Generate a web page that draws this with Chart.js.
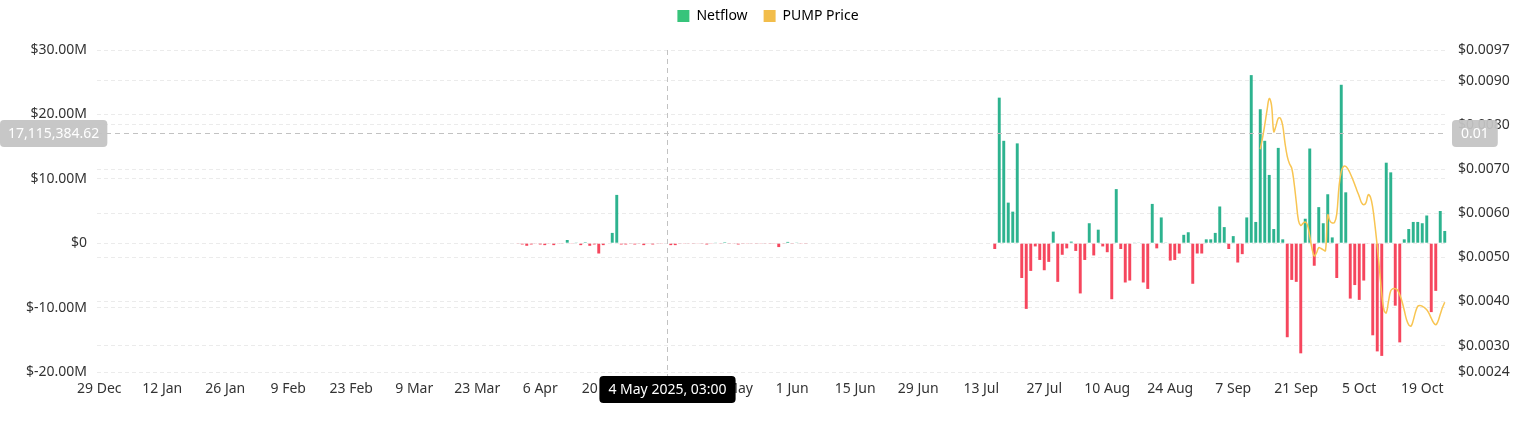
<!DOCTYPE html>
<html>
<head>
<meta charset="utf-8">
<title>PUMP Netflow vs Price</title>
<script src="https://cdn.jsdelivr.net/npm/chart.js@4.4.0/dist/chart.umd.min.js"></script>
<style>
  html, body { margin: 0; padding: 0; background: #fff; }
  #chart { display: block; }
</style>
</head>
<body>
<canvas id="chart" width="1536" height="435"></canvas>
<script>
// x axis: one slot per day, starting 29 Dec 2024
var AXIS_START = Date.UTC(2024, 11, 29);
var AXIS_DAYS = 300;
var TICK_STEP_DAYS = 14;

var dateTickLabels = ['29 Dec', '12 Jan', '26 Jan', '9 Feb', '23 Feb', '9 Mar', '23 Mar', '6 Apr',
  '20 Apr', '4 May', '18 May', '1 Jun', '15 Jun', '29 Jun', '13 Jul', '27 Jul', '10 Aug',
  '24 Aug', '7 Sep', '21 Sep', '5 Oct', '19 Oct'];

var netflowTicks = [-20e6, -10e6, 0, 10e6, 20e6, 30e6];
var priceTicks = [0.0024, 0.003, 0.004, 0.005, 0.006, 0.007, 0.008, 0.009, 0.0097];

// Netflow in $M, daily
var springFlowStart = '2025-04-01';
var springFlow = [
  -0.1, -0.2, -0.4, -0.2, -0.1, -0.2, -0.3, -0.1, -0.3, -0.1,
  -0.1, 0.5, -0.05, 0.05, -0.3, 0.15, -0.4, -0.2, -1.6, -0.3,
  0, 1.6, 7.5, -0.2, -0.2, -0.1, -0.2, -0.1, -0.3, -0.1,
  -0.2, -0.1, -0.05, 0, -0.3, -0.3, -0.1, -0.05, -0.1, -0.05,
  -0.1, -0.05, -0.2, -0.05, 0.1, -0.05, 0.15, -0.05, -0.1, -0.2,
  -0.05, -0.05, -0.1, -0.05, -0.05, -0.1, -0.05, -0.05, -0.6, -0.1,
  0.2, -0.05, 0.05, -0.05, -0.05
];

var summerFlowStart = '2025-07-16';
var summerFlow = [
  -0.9, 22.6, 15.9, 6.3, 4.9, 15.5, -5.4, -10.2, -4.3, -0.5,
  -2.6, -4.2, -2.9, 1.8, -6.0, -1.8, -0.8, 0.25, -1.2, -7.8,
  -2.6, 3.1, -1.9, 2.1, -0.5, -1.4, -8.7, 8.4, -0.9, -6.1,
  -5.8, 0.1, 0.1, -6.1, -7.1, 6.1, -0.8, 4.0, 0.05, -2.7,
  -2.6, -1.6, 1.3, 1.7, -6.3, -1.6, -1.6, 0.6, 0.6, 1.6,
  5.7, 2.5, -0.9, 1.1, -3.0, -1.7, 4.0, 26.1, 3.3, 20.8,
  15.9, 10.6, 2.2, 14.8, 0.6, -14.6, -5.7, -6.0, -17.1, 3.8,
  14.7, -3.5, 5.6, 3.1, 7.6, 0.9, -5.4, 24.6, 7.9, -8.6,
  -6.5, -8.8, -5.8, -0.1, -14.3, -16.8, -17.5, 12.5, 11.0, -9.7,
  -15.4, 0.6, 2.2, 3.3, 3.3, 3.1, 4.3, -10.7, -7.4, 5.0,
  1.9
];

// PUMP price in $, every 12 hours
var priceStart = '2025-09-13';
var priceStepHours = 12;
var pumpPrice = [
  0.00745, 0.00770, 0.00800, 0.00833, 0.00860, 0.00845, 0.00785, 0.00798, 0.00815, 0.00815,
  0.00798, 0.00759, 0.00729, 0.00712, 0.00702, 0.00670, 0.00626, 0.00583, 0.00572, 0.00577,
  0.00580, 0.00573, 0.00548, 0.00520, 0.00503, 0.00510, 0.00522, 0.00520, 0.00517, 0.00515,
  0.00596, 0.00582, 0.00578, 0.00579, 0.00598, 0.00660, 0.00695, 0.00706, 0.00706, 0.00700,
  0.00690, 0.00678, 0.00665, 0.00651, 0.00638, 0.00624, 0.00619, 0.00624, 0.00642, 0.00636,
  0.00612, 0.00572, 0.00525, 0.00473, 0.00417, 0.00380, 0.00374, 0.00400, 0.00424, 0.00429,
  0.00429, 0.00426, 0.00415, 0.00400, 0.00380, 0.00359, 0.00347, 0.00344, 0.00357, 0.00376,
  0.00389, 0.00391, 0.00389, 0.00386, 0.00381, 0.00373, 0.00362, 0.00352, 0.00347, 0.00355,
  0.00371, 0.00386, 0.00398
];

// hover position frozen in the screenshot
var crosshairDate = '2025-05-04';
var crosshairHour = 3;
var crosshairText = '4 May 2025, 03:00';
var crosshairNetflow = 17115384.62;

var GREEN = '#2db38f';
var RED = '#f6465d';
var YELLOW = '#f8c552';

function dayOf(dateStr, hours) {
  return (Date.parse(dateStr) - AXIS_START) / 86400000 + (hours || 0) / 24;
}

function flowPoints(start, values) {
  var d0 = dayOf(start);
  return values.map(function(v, i) {
    return { x: d0 + i, y: v * 1e6 };
  });
}

var netflowData = flowPoints(springFlowStart, springFlow).concat(flowPoints(summerFlowStart, summerFlow));

var priceData = pumpPrice.map(function(p, i) {
  return { x: dayOf(priceStart) + i * priceStepHours / 24, y: p };
});

function roundRect(ctx, x, y, w, h, r) {
  ctx.beginPath();
  ctx.moveTo(x + r, y);
  ctx.lineTo(x + w - r, y);
  ctx.quadraticCurveTo(x + w, y, x + w, y + r);
  ctx.lineTo(x + w, y + h - r);
  ctx.quadraticCurveTo(x + w, y + h, x + w - r, y + h);
  ctx.lineTo(x + r, y + h);
  ctx.quadraticCurveTo(x, y + h, x, y + h - r);
  ctx.lineTo(x, y + r);
  ctx.quadraticCurveTo(x, y, x + r, y);
  ctx.closePath();
}

// extra room under the legend
var legendSpacer = {
  id: 'legendSpacer',
  beforeInit: function(chart) {
    var fit = chart.legend.fit;
    chart.legend.fit = function() {
      fit.call(this);
      this.height += 17;
    };
  }
};

// dashed crosshair with its value tags
var crosshair = {
  id: 'crosshair',
  afterDraw: function(chart) {
    var ctx = chart.ctx;
    var area = chart.chartArea;
    var xs = chart.scales.x, ys = chart.scales.y, ps = chart.scales.y1;
    var px = Math.round(xs.getPixelForValue(dayOf(crosshairDate, crosshairHour))) + 0.5;
    var py = Math.round(ys.getPixelForValue(crosshairNetflow)) + 0.5;
    var tagH = 27;

    ctx.save();
    ctx.strokeStyle = '#c2c2c2';
    ctx.lineWidth = 1;
    ctx.setLineDash([5, 4]);
    ctx.beginPath();
    ctx.moveTo(px, area.top);
    ctx.lineTo(px, area.bottom + 4);
    ctx.moveTo(area.left, py);
    ctx.lineTo(area.right, py);
    ctx.stroke();
    ctx.setLineDash([]);

    ctx.font = '14px "Noto Sans", sans-serif';
    ctx.textBaseline = 'middle';
    ctx.textAlign = 'left';

    var leftText = crosshairNetflow.toLocaleString('en-US', { minimumFractionDigits: 2, maximumFractionDigits: 2 });
    var lw = ctx.measureText(leftText).width + 16;
    ctx.fillStyle = 'rgba(196, 196, 196, 0.95)';
    roundRect(ctx, 0, py - tagH / 2, lw, tagH, 4);
    ctx.fill();
    ctx.fillStyle = '#fff';
    ctx.fillText(leftText, 8, py + 1);

    var rightText = ps.getValueForPixel(py).toFixed(2);
    var rw = ctx.measureText(rightText).width + 18;
    ctx.fillStyle = 'rgba(196, 196, 196, 0.95)';
    roundRect(ctx, area.right + 5, py - tagH / 2, rw, tagH, 4);
    ctx.fill();
    ctx.fillStyle = '#fff';
    ctx.fillText(rightText, area.right + 14, py + 1);

    var bw = ctx.measureText(crosshairText).width + 18;
    ctx.fillStyle = '#000';
    roundRect(ctx, px - bw / 2, area.bottom + 4, bw, tagH, 4);
    ctx.fill();
    ctx.fillStyle = '#fff';
    ctx.textAlign = 'center';
    ctx.fillText(crosshairText, px, area.bottom + 4 + tagH / 2 + 1);
    ctx.restore();
  }
};

Chart.defaults.font.family = '"Noto Sans", sans-serif';
Chart.defaults.font.size = 14;
Chart.defaults.color = '#333';

new Chart(document.getElementById('chart'), {
  type: 'bar',
  data: {
    datasets: [
      {
        label: 'Netflow',
        data: netflowData,
        yAxisID: 'y',
        order: 2,
        backgroundColor: function(c) {
          return c.parsed && c.parsed.y < 0 ? RED : GREEN;
        },
        barPercentage: 0.65,
        categoryPercentage: 1
      },
      {
        type: 'line',
        label: 'PUMP Price',
        data: priceData,
        yAxisID: 'y1',
        order: 1,
        borderColor: YELLOW,
        borderWidth: 1.5,
        pointRadius: 0,
        tension: 0.4,
        fill: false
      }
    ]
  },
  options: {
    responsive: false,
    animation: false,
    devicePixelRatio: 1,
    events: [],
    layout: { padding: { top: -7, left: 0, right: 0, bottom: 0 } },
    plugins: {
      tooltip: { enabled: false },
      legend: {
        position: 'top',
        labels: {
          color: '#555',
          boxWidth: 12,
          boxHeight: 12,
          padding: 16,
          font: { size: 14 },
          generateLabels: function() {
            return [
              { text: 'Netflow', fillStyle: '#37c47b', strokeStyle: '#37c47b', lineWidth: 0, datasetIndex: 0 },
              { text: 'PUMP Price', fillStyle: '#f2bd4b', strokeStyle: '#f2bd4b', lineWidth: 0, datasetIndex: 1 }
            ];
          }
        }
      }
    },
    scales: {
      x: {
        type: 'linear',
        min: -0.5,
        max: AXIS_DAYS - 0.5,
        offset: false,
        grid: { display: false, drawTicks: false },
        border: { display: false },
        afterBuildTicks: function(scale) {
          scale.ticks = dateTickLabels.map(function(l, i) { return { value: i * TICK_STEP_DAYS }; });
        },
        afterFit: function(scale) { scale.height = 63; },
        ticks: {
          autoSkip: false,
          maxRotation: 0,
          minRotation: 0,
          padding: 9,
          color: '#333',
          callback: function(v, i) { return dateTickLabels[i]; }
        }
      },
      y: {
        position: 'left',
        min: -20e6,
        max: 30e6,
        afterBuildTicks: function(scale) {
          scale.ticks = netflowTicks.map(function(v) { return { value: v }; });
        },
        afterFit: function(scale) { scale.width = 97; },
        grid: { color: '#ebebeb', drawTicks: false },
        border: { display: false, dash: [4, 3] },
        ticks: {
          padding: 10,
          color: '#333',
          callback: function(v) {
            return v === 0 ? '$0' : '$' + (v / 1e6).toFixed(2) + 'M';
          }
        }
      },
      y1: {
        position: 'right',
        min: 0.0024,
        max: 0.0097,
        afterBuildTicks: function(scale) {
          scale.ticks = priceTicks.map(function(v) { return { value: v }; });
        },
        afterFit: function(scale) { scale.width = 89; },
        grid: { color: '#ebebeb', drawTicks: false },
        border: { display: false, dash: [4, 3] },
        ticks: {
          padding: 11,
          color: '#333',
          callback: function(v) { return '$' + v.toFixed(4); }
        }
      }
    }
  },
  plugins: [legendSpacer, crosshair]
});
</script>
</body>
</html>
